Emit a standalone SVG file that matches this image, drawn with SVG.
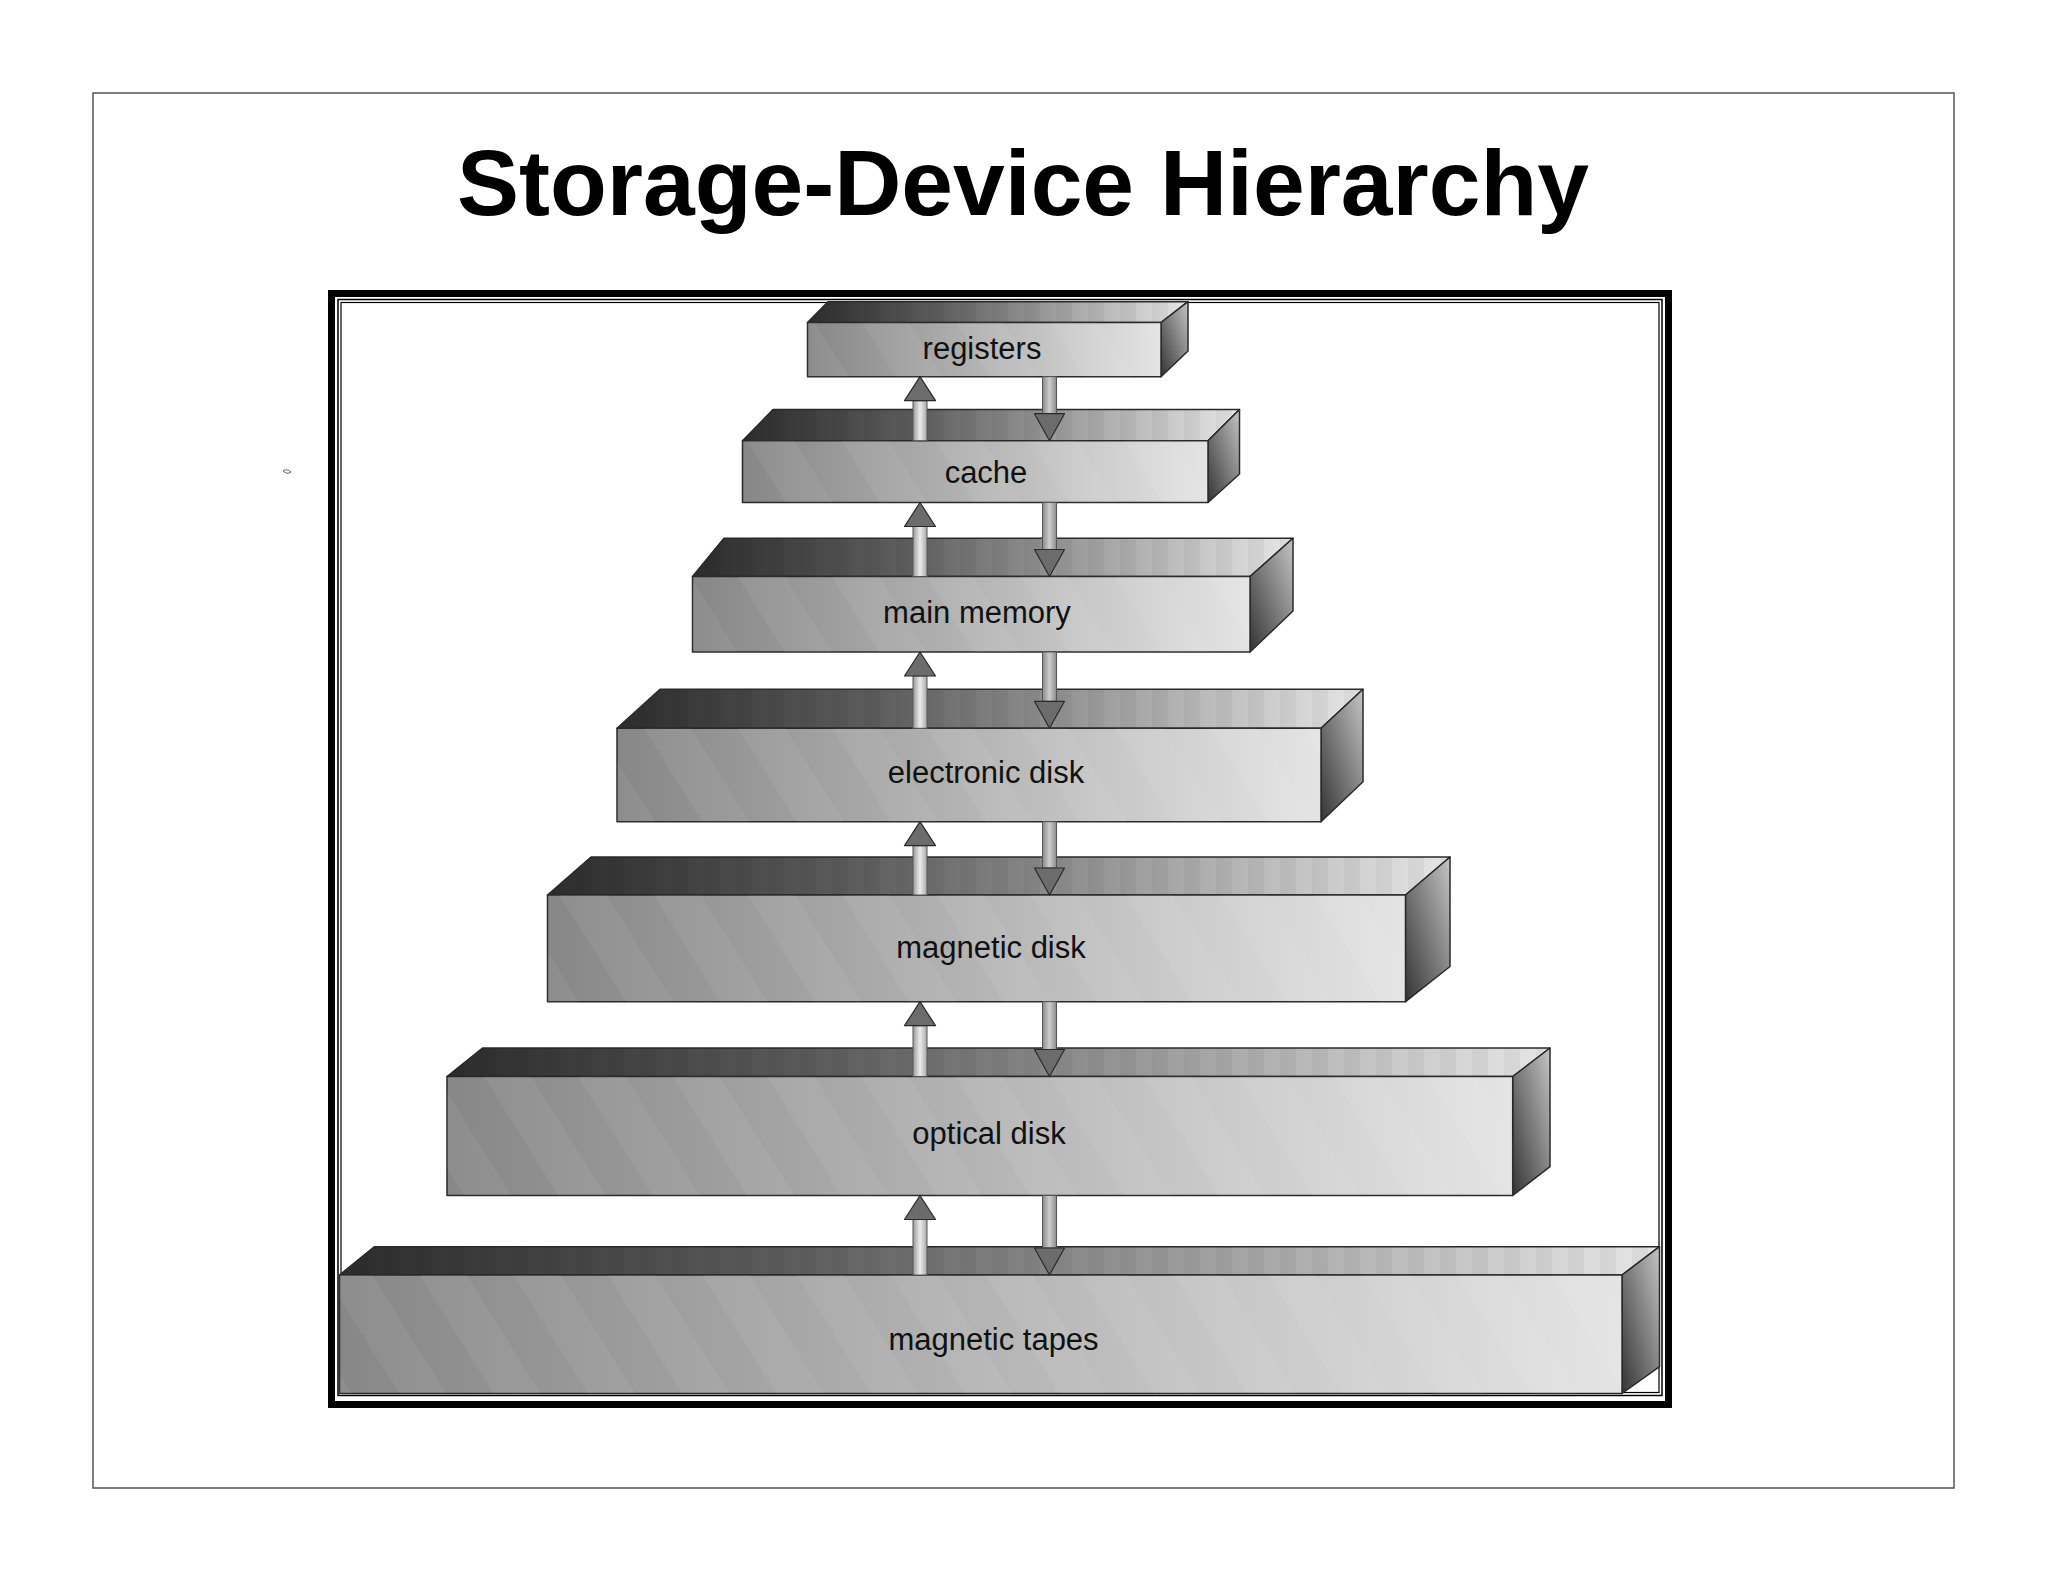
<svg xmlns="http://www.w3.org/2000/svg" width="2048" height="1582" viewBox="0 0 2048 1582">
<style>
.title{font-family:"Liberation Sans",Arial,sans-serif;font-weight:bold;font-size:93px;fill:#000}
.lbl{font-family:"Liberation Sans",Arial,sans-serif;font-size:31px;fill:#111;text-anchor:middle}
.edge{stroke:#2a2a2a;stroke-width:1.5;stroke-linejoin:round}
.front{fill:url(#gFront)}
.top{fill:url(#gTop)}
.side{fill:url(#gSide)}
.stripe{fill:url(#pStripe);stroke:none}
.band{fill:url(#pBand);stroke:none}
.upShaft{fill:url(#gUp);stroke:#555;stroke-width:1}
.dnShaft{fill:url(#gDn);stroke:#555;stroke-width:1}
.head{fill:#6c6c6c;stroke:#2a2a2a;stroke-width:1.2;stroke-linejoin:round}
</style>
<defs>
<linearGradient id="gFront" x1="0" y1="0" x2="1" y2="0">
<stop offset="0" stop-color="#878787"/>
<stop offset="0.5" stop-color="#b4b4b4"/>
<stop offset="1" stop-color="#e4e4e4"/>
</linearGradient>
<linearGradient id="gTop" x1="0" y1="0" x2="1" y2="0">
<stop offset="0" stop-color="#2c2c2c"/>
<stop offset="0.35" stop-color="#5e5e5e"/>
<stop offset="0.65" stop-color="#9e9e9e"/>
<stop offset="1" stop-color="#e6e6e6"/>
</linearGradient>
<linearGradient id="gSide" x1="1" y1="0" x2="0" y2="1">
<stop offset="0" stop-color="#c4c4c4"/>
<stop offset="1" stop-color="#343434"/>
</linearGradient>
<linearGradient id="gUp" x1="0" y1="0" x2="1" y2="0">
<stop offset="0" stop-color="#9a9a9a"/>
<stop offset="0.5" stop-color="#ececec"/>
<stop offset="1" stop-color="#a8a8a8"/>
</linearGradient>
<linearGradient id="gDn" x1="0" y1="0" x2="1" y2="0">
<stop offset="0" stop-color="#8a8a8a"/>
<stop offset="0.5" stop-color="#cdcdcd"/>
<stop offset="1" stop-color="#8a8a8a"/>
</linearGradient>
<pattern id="pStripe" patternUnits="userSpaceOnUse" width="80" height="80" patternTransform="rotate(-32)">
<rect x="0" y="0" width="40" height="80" fill="#ffffff" fill-opacity="0.05"/>
</pattern>
<pattern id="pBand" patternUnits="userSpaceOnUse" width="32" height="32">
<rect x="0" y="0" width="16" height="32" fill="#000000" fill-opacity="0.04"/>
</pattern>
</defs>
<rect width="2048" height="1582" fill="#ffffff"/>
<rect x="93" y="93" width="1861" height="1395" fill="none" stroke="#555" stroke-width="1.5"/>
<text class="title" x="1023" y="215" text-anchor="middle">Storage-Device Hierarchy</text>
<path d="M283,471 q4,-3 8,1 q-4,3 -8,-1 z" fill="none" stroke="#444" stroke-width="0.8"/>
<g id="frame">
<rect x="331.5" y="293.5" width="1337" height="1111" fill="#ffffff" stroke="#000" stroke-width="7"/>
<rect x="338" y="299.5" width="1324" height="1096" fill="none" stroke="#000" stroke-width="1.5"/>
<rect x="341" y="302.5" width="1318" height="1090" fill="none" stroke="#000" stroke-width="1.2"/>
</g>
<g id="nodes">
<g id="registers">
<polygon class="top edge" points="807.5,322.5 828,301.7 1188,301.7 1161,322.5"/>
<polygon class="band" points="807.5,322.5 828,301.7 1188,301.7 1161,322.5"/>
<polygon class="side edge" points="1161,322.5 1188,301.7 1188,351 1161,376.7"/>
<rect class="front edge" x="807.5" y="322.5" width="353.5" height="54.2"/>
<rect class="stripe" x="807.5" y="322.5" width="353.5" height="54.2"/>
<text class="lbl" x="982" y="359">registers</text>
</g>
<g id="cache">
<polygon class="top edge" points="742.5,440.7 773,409.5 1239.5,409.5 1208,440.7"/>
<polygon class="band" points="742.5,440.7 773,409.5 1239.5,409.5 1208,440.7"/>
<polygon class="side edge" points="1208,440.7 1239.5,409.5 1239.5,474 1208,502.5"/>
<rect class="front edge" x="742.5" y="440.7" width="465.5" height="61.8"/>
<rect class="stripe" x="742.5" y="440.7" width="465.5" height="61.8"/>
<text class="lbl" x="986" y="483">cache</text>
</g>
<g id="main-memory">
<polygon class="top edge" points="692.5,576.5 724,538.3 1293,538.3 1250,576.5"/>
<polygon class="band" points="692.5,576.5 724,538.3 1293,538.3 1250,576.5"/>
<polygon class="side edge" points="1250,576.5 1293,538.3 1293,611 1250,652"/>
<rect class="front edge" x="692.5" y="576.5" width="557.5" height="75.5"/>
<rect class="stripe" x="692.5" y="576.5" width="557.5" height="75.5"/>
<text class="lbl" x="977" y="623">main memory</text>
</g>
<g id="electronic-disk">
<polygon class="top edge" points="617,728.3 660,689.3 1363,689.3 1321,728.3"/>
<polygon class="band" points="617,728.3 660,689.3 1363,689.3 1321,728.3"/>
<polygon class="side edge" points="1321,728.3 1363,689.3 1363,781.7 1321,821.7"/>
<rect class="front edge" x="617" y="728.3" width="704" height="93.4"/>
<rect class="stripe" x="617" y="728.3" width="704" height="93.4"/>
<text class="lbl" x="986" y="783">electronic disk</text>
</g>
<g id="magnetic-disk">
<polygon class="top edge" points="547.5,895 591,857 1450,857 1405.5,895"/>
<polygon class="band" points="547.5,895 591,857 1450,857 1405.5,895"/>
<polygon class="side edge" points="1405.5,895 1450,857 1450,966.5 1405.5,1001.7"/>
<rect class="front edge" x="547.5" y="895" width="858" height="106.7"/>
<rect class="stripe" x="547.5" y="895" width="858" height="106.7"/>
<text class="lbl" x="991" y="958">magnetic disk</text>
</g>
<g id="optical-disk">
<polygon class="top edge" points="447,1076.5 482.5,1048 1550,1048 1512.7,1076.5"/>
<polygon class="band" points="447,1076.5 482.5,1048 1550,1048 1512.7,1076.5"/>
<polygon class="side edge" points="1512.7,1076.5 1550,1048 1550,1166.7 1512.7,1195.5"/>
<rect class="front edge" x="447" y="1076.5" width="1065.7" height="119"/>
<rect class="stripe" x="447" y="1076.5" width="1065.7" height="119"/>
<text class="lbl" x="989" y="1144">optical disk</text>
</g>
<g id="magnetic-tapes">
<polygon class="top edge" points="339.5,1275 374.5,1246.7 1659.5,1246.7 1622,1275"/>
<polygon class="band" points="339.5,1275 374.5,1246.7 1659.5,1246.7 1622,1275"/>
<polygon class="side edge" points="1622,1275 1659.5,1246.7 1659.5,1366.7 1622,1393.5"/>
<rect class="front edge" x="339.5" y="1275" width="1282.5" height="118.5"/>
<rect class="stripe" x="339.5" y="1275" width="1282.5" height="118.5"/>
<text class="lbl" x="993.5" y="1350">magnetic tapes</text>
</g>
</g>
<g id="connectors">
<g>
<rect class="upShaft" x="913" y="400.7" width="14" height="40"/>
<polygon class="head" points="920,376.7 935.5,400.7 904.5,400.7"/>
<rect class="dnShaft" x="1042.5" y="376.7" width="14" height="37"/>
<polygon class="head" points="1034.5,413.7 1064.5,413.7 1049.5,440.7"/>
</g>
<g>
<rect class="upShaft" x="913" y="526.5" width="14" height="50"/>
<polygon class="head" points="920,502.5 935.5,526.5 904.5,526.5"/>
<rect class="dnShaft" x="1042.5" y="502.5" width="14" height="47"/>
<polygon class="head" points="1034.5,549.5 1064.5,549.5 1049.5,576.5"/>
</g>
<g>
<rect class="upShaft" x="913" y="676" width="14" height="52.3"/>
<polygon class="head" points="920,652 935.5,676 904.5,676"/>
<rect class="dnShaft" x="1042.5" y="652" width="14" height="49.3"/>
<polygon class="head" points="1034.5,701.3 1064.5,701.3 1049.5,728.3"/>
</g>
<g>
<rect class="upShaft" x="913" y="845.7" width="14" height="49.3"/>
<polygon class="head" points="920,821.7 935.5,845.7 904.5,845.7"/>
<rect class="dnShaft" x="1042.5" y="821.7" width="14" height="46.3"/>
<polygon class="head" points="1034.5,868 1064.5,868 1049.5,895"/>
</g>
<g>
<rect class="upShaft" x="913" y="1025.7" width="14" height="50.8"/>
<polygon class="head" points="920,1001.7 935.5,1025.7 904.5,1025.7"/>
<rect class="dnShaft" x="1042.5" y="1001.7" width="14" height="47.8"/>
<polygon class="head" points="1034.5,1049.5 1064.5,1049.5 1049.5,1076.5"/>
</g>
<g>
<rect class="upShaft" x="913" y="1219.5" width="14" height="55.5"/>
<polygon class="head" points="920,1195.5 935.5,1219.5 904.5,1219.5"/>
<rect class="dnShaft" x="1042.5" y="1195.5" width="14" height="52.5"/>
<polygon class="head" points="1034.5,1248 1064.5,1248 1049.5,1275"/>
</g>
</g>
</svg>
